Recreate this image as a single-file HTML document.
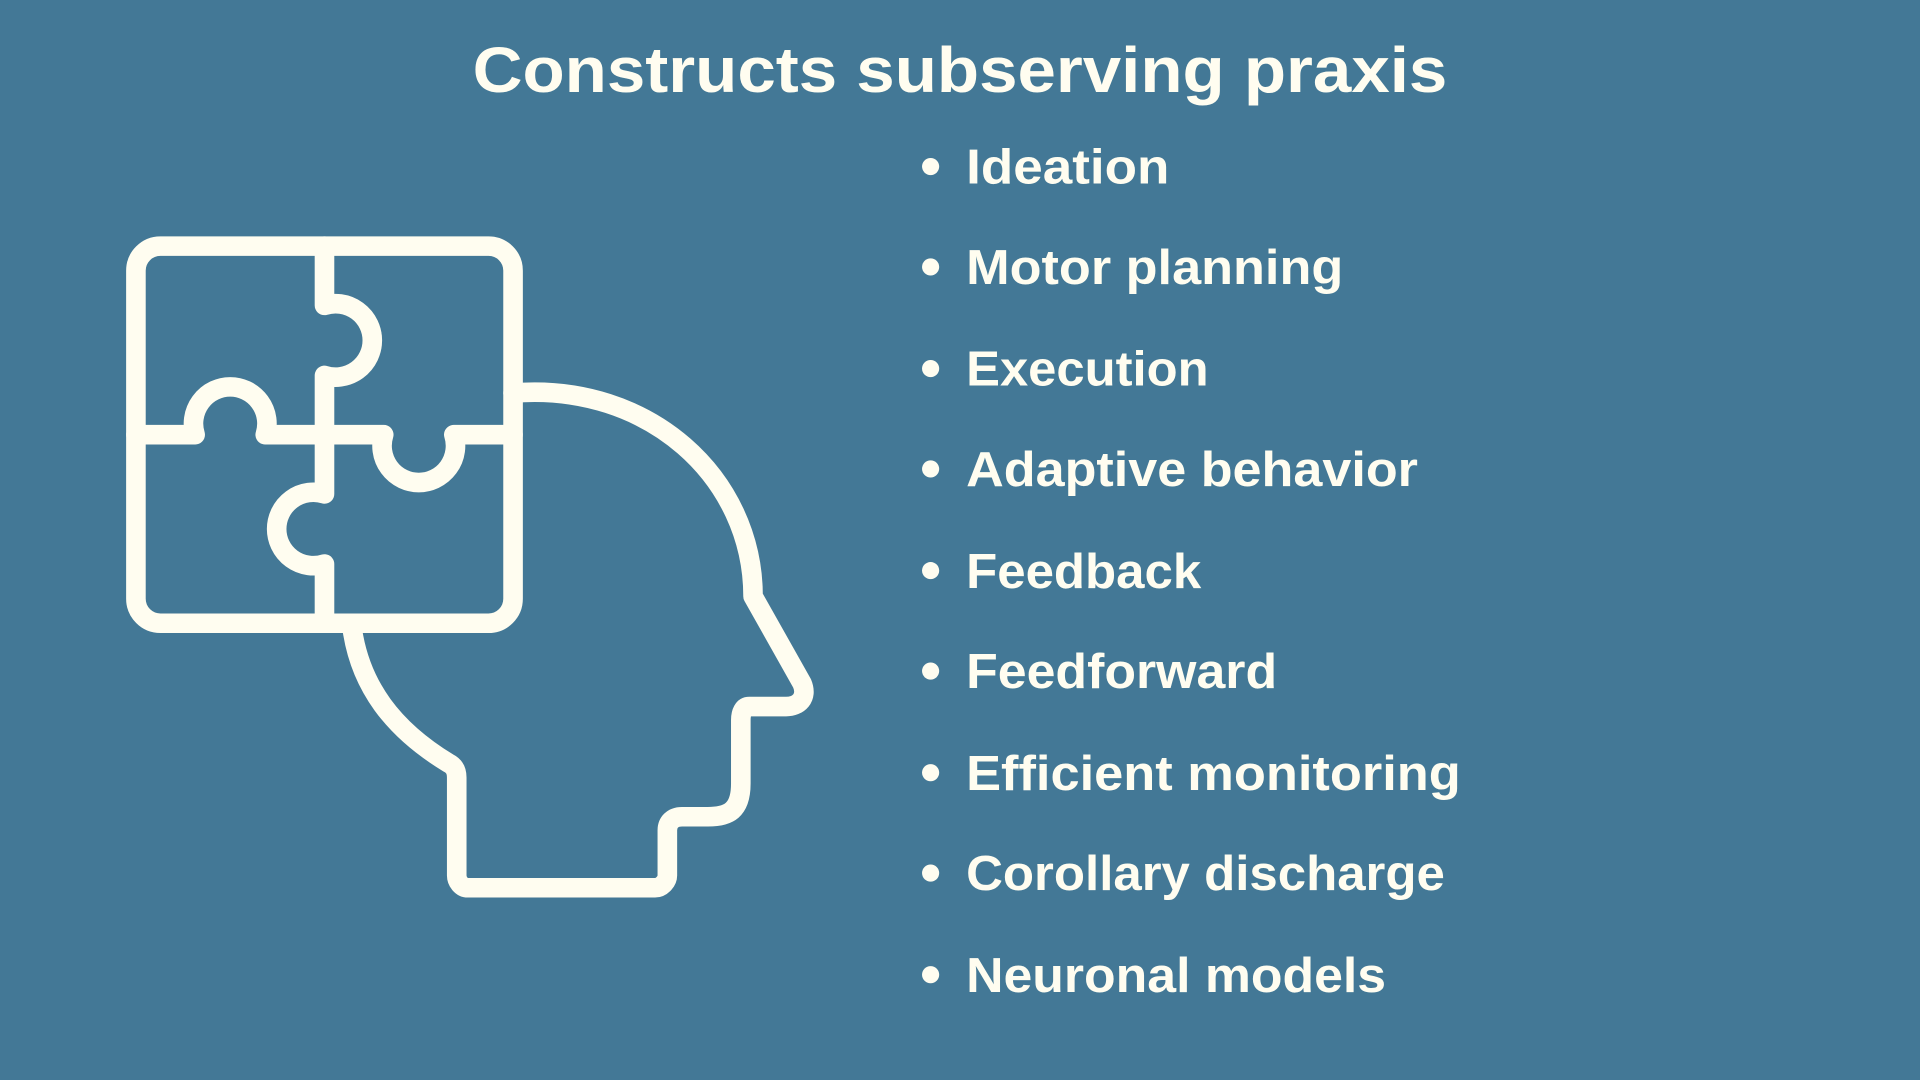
<!DOCTYPE html>
<html><head><meta charset="utf-8"><style>
html,body{margin:0;padding:0;background:#437896;}
svg{display:block}
text{font-family:"Liberation Sans",sans-serif;font-weight:bold;fill:#fffdf0}
</style></head><body>
<svg width="1920" height="1080" viewBox="0 0 1568 882" preserveAspectRatio="none" xmlns="http://www.w3.org/2000/svg">
<rect width="1568" height="882" fill="#437896"/>
<text x="784" y="75" text-anchor="middle" font-size="52" textLength="796" lengthAdjust="spacingAndGlyphs">Constructs subserving praxis</text>
<g font-size="40">
<text x="789" y="150" textLength="166" lengthAdjust="spacingAndGlyphs">Ideation</text>
<text x="789" y="232" textLength="308" lengthAdjust="spacingAndGlyphs">Motor planning</text>
<text x="789" y="315" textLength="198" lengthAdjust="spacingAndGlyphs">Execution</text>
<text x="789" y="397" textLength="369" lengthAdjust="spacingAndGlyphs">Adaptive behavior</text>
<text x="789" y="480" textLength="192" lengthAdjust="spacingAndGlyphs">Feedback</text>
<text x="789" y="562" textLength="254" lengthAdjust="spacingAndGlyphs">Feedforward</text>
<text x="789" y="645" textLength="404" lengthAdjust="spacingAndGlyphs">Efficient monitoring</text>
<text x="789" y="727" textLength="391" lengthAdjust="spacingAndGlyphs">Corollary discharge</text>
<text x="789" y="810" textLength="343" lengthAdjust="spacingAndGlyphs">Neuronal models</text>
</g>
<g fill="#fffdf0">
<circle cx="760" cy="136" r="7"/><circle cx="760" cy="218" r="7"/><circle cx="760" cy="301" r="7"/>
<circle cx="760" cy="383" r="7"/><circle cx="760" cy="466" r="7"/><circle cx="760" cy="548" r="7"/>
<circle cx="760" cy="631" r="7"/><circle cx="760" cy="713" r="7"/><circle cx="760" cy="796" r="7"/>
</g>
<g fill="none" stroke="#fffdf0" stroke-width="16" stroke-linecap="round" stroke-linejoin="round">
<rect x="111" y="201" width="308" height="308" rx="20"/>
<path d="M265 201 V249.4 A30 30 0 1 1 265 306.6 V355"/>
<path d="M111 355 H159.4 A30 30 0 1 1 216.6 355 H265"/>
<path d="M265 355 H313.4 A30 30 0 1 0 370.6 355 H419"/>
<path d="M265 355 V403.4 A30 30 0 1 0 265 460.6 V509"/>
<path d="M419 321 C530 312 615 390 615 487 L655 558 C660 570 652 577 642 577 H612 C607 577 605 582 605 588 V640 C605 662 595 667 578 667 H557 C549 667 545 672 545 678 V715 C545 720 540 725 535 725 H382 C377 725 373 720 373 715 V635 C373 628 370 625 366 623 C320 595 295 560 288 516"/>
</g>
</svg>
</body></html>
